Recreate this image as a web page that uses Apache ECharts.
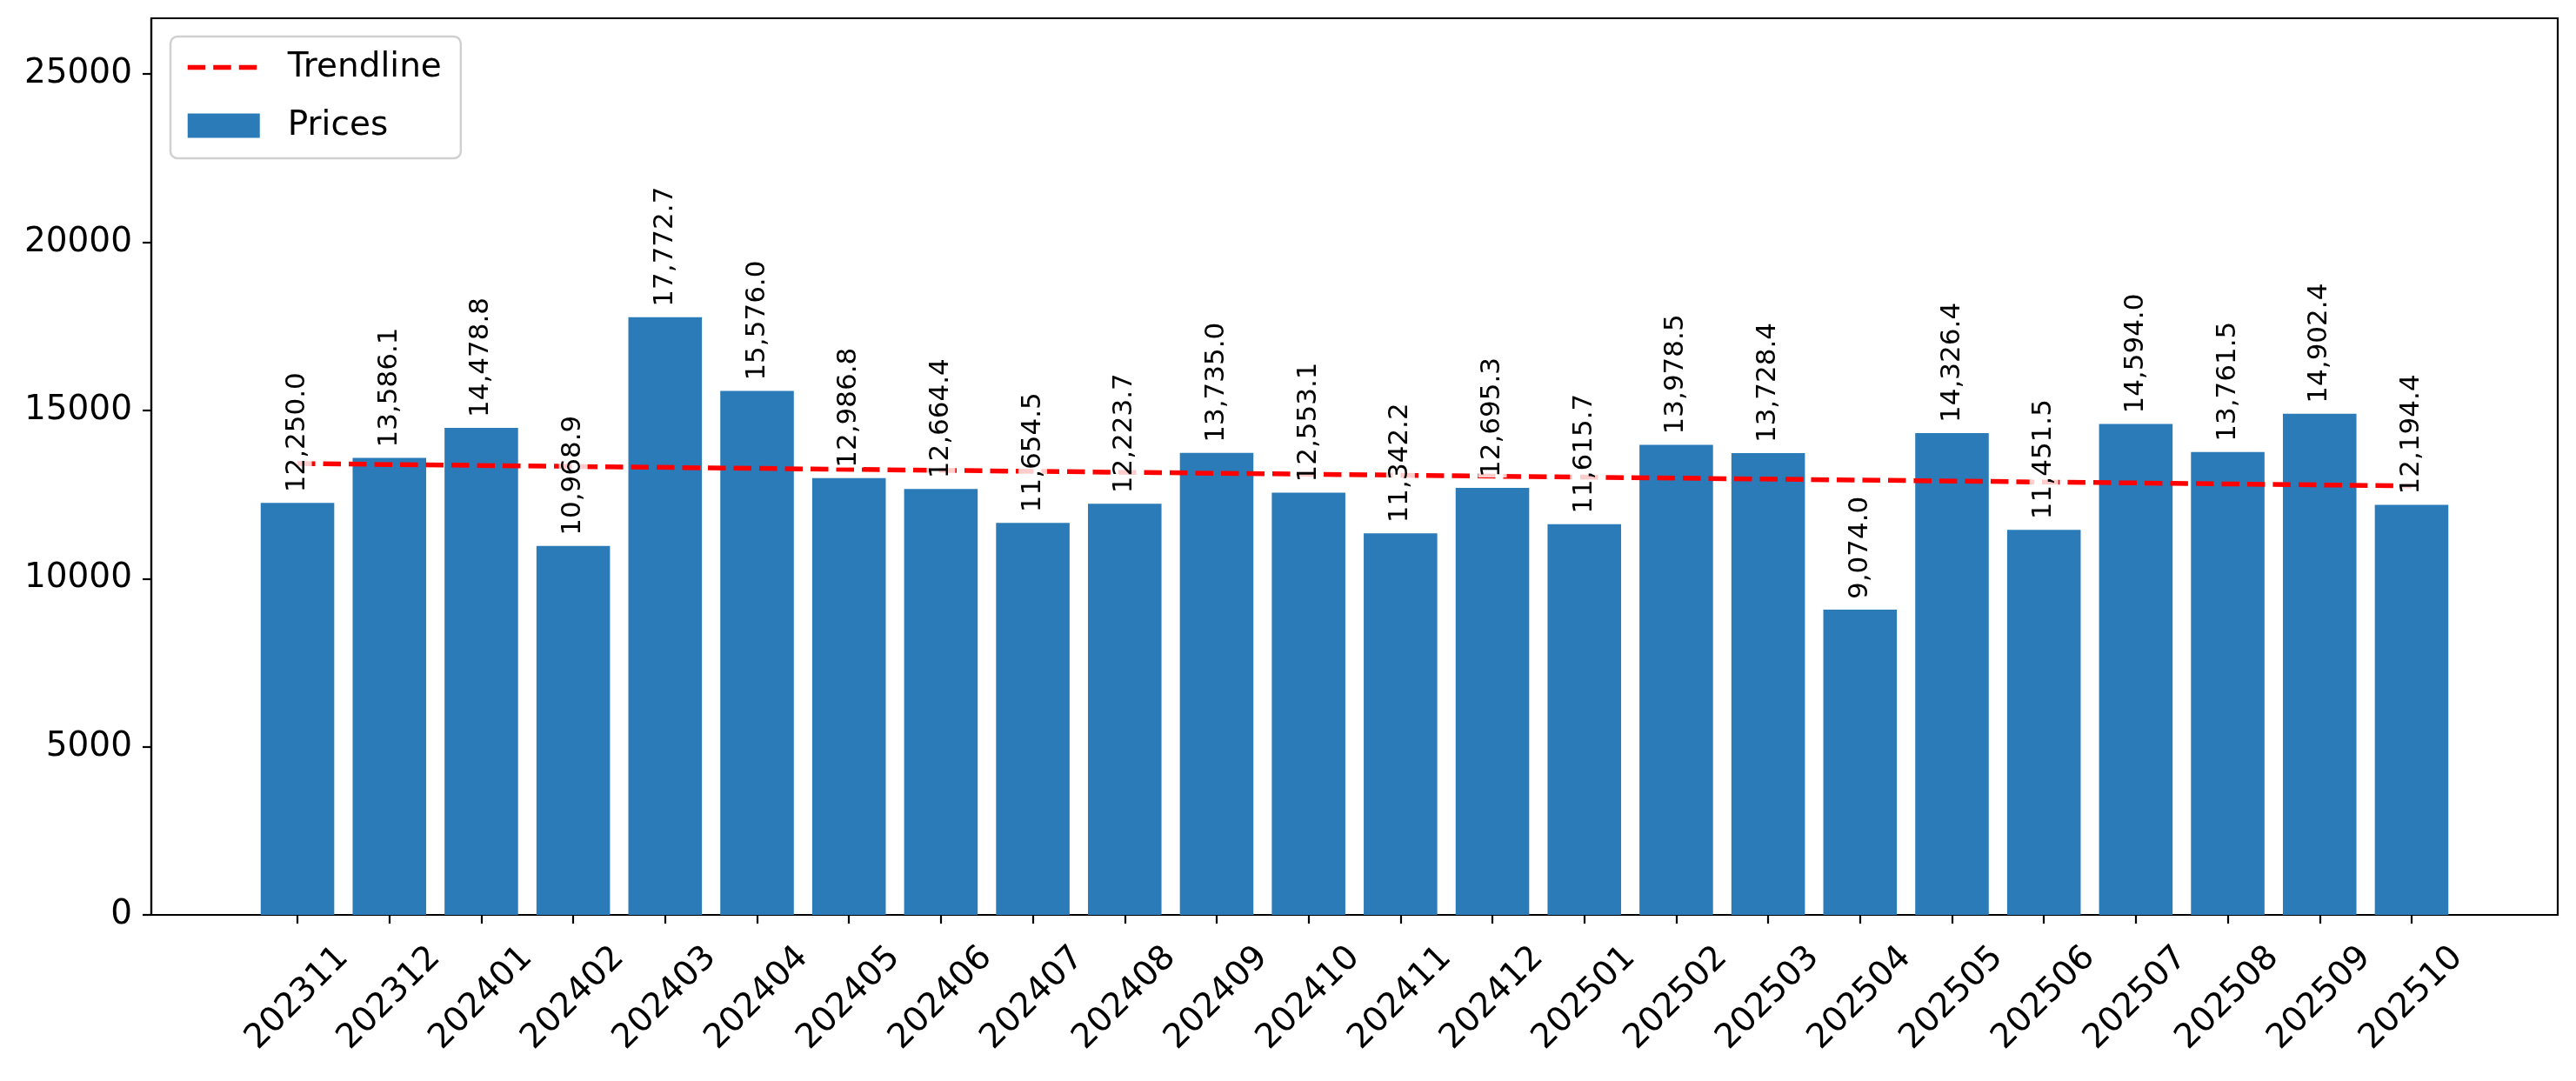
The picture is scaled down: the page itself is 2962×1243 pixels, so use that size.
<!DOCTYPE html>
<html lang="en">
<head>
    <meta charset="UTF-8">
    <title>Prices</title>
    <style>
        html, body { margin: 0; padding: 0; background: #fff; }
        #container { width: 2962px; height: 1243px; }
    </style>
</head>
<body>
    <div id="container"></div>
    <script src="https://cdn.jsdelivr.net/npm/echarts@6/dist/echarts.min.js"></script>
    <script>
        var months = ['202311', '202312', '202401', '202402', '202403', '202404', '202405', '202406',
            '202407', '202408', '202409', '202410', '202411', '202412', '202501', '202502',
            '202503', '202504', '202505', '202506', '202507', '202508', '202509', '202510'];
        var prices = [12250.0, 13586.1, 14478.8, 10968.9, 17772.7, 15576.0, 12986.8, 12664.4,
            11654.5, 12223.7, 13735.0, 12553.1, 11342.2, 12695.3, 11615.7, 13978.5,
            13728.4, 9074.0, 14326.4, 11451.5, 14594.0, 13761.5, 14902.4, 12194.4];
        // trendline end points
        var trendX = [0, 23];
        var trendY = [13420, 12755];
        var yTicks = [0, 5000, 10000, 15000, 20000, 25000];

        var container = document.getElementById('container'),
            ec = echarts.init(container);

        var gridLeft = 174, gridRight = 21, xMin = -1.59, xMax = 24.59;
        var unit = (container.clientWidth - gridLeft - gridRight) / (xMax - xMin);
        var font = 'DejaVu Sans';
        var dash = [20.5, 9];

        var barData = prices.map(function (v, i) { return [i, v]; });
        var tickIdx = months.map(function (m, i) { return i; });

        var option = {
            backgroundColor: '#fff',
            animation: false,
            textStyle: { fontFamily: font },
            grid: {
                left: gridLeft, right: gridRight, top: 21, bottom: 191,
                show: true, borderColor: '#000', borderWidth: 2.2
            },
            legend: {
                data: [{
                    name: 'Trendline',
                    itemStyle: { opacity: 0 },
                    lineStyle: { color: '#ff0000', width: 5.5, type: dash }
                }, {
                    name: 'Prices',
                    icon: 'rect'
                }],
                orient: 'vertical',
                left: 196, top: 42,
                padding: [16, 22, 18, 17],
                itemWidth: 83, itemHeight: 28,
                itemGap: 28,
                backgroundColor: 'rgba(255,255,255,0.8)',
                borderColor: '#d0d0d0', borderWidth: 2.5, borderRadius: 8,
                textStyle: { fontSize: 39, color: '#000', fontFamily: font, lineHeight: 39, padding: [0, 0, 0, 27] }
            },
            xAxis: {
                type: 'value', min: xMin, max: xMax,
                splitLine: { show: false },
                axisLine: { show: true, onZero: false, lineStyle: { color: '#000', width: 2.2 } },
                axisTick: { show: true, length: 10, customValues: tickIdx, lineStyle: { color: '#000', width: 2.2 } },
                axisLabel: {
                    customValues: tickIdx,
                    formatter: function (v) { return months[Math.round(v)]; },
                    rotate: 45, align: 'center', verticalAlign: 'middle',
                    margin: 96, fontSize: 39, color: '#000', fontFamily: font
                }
            },
            yAxis: {
                type: 'value', min: 0, max: 26659,
                splitLine: { show: false },
                axisLine: { show: true, onZero: false, lineStyle: { color: '#000', width: 2.2 } },
                axisTick: { show: true, length: 10, customValues: yTicks, lineStyle: { color: '#000', width: 2.2 } },
                axisLabel: {
                    customValues: yTicks,
                    formatter: function (v) { return String(v); },
                    margin: 22, fontSize: 39, color: '#000', fontFamily: font
                }
            },
            series: [{
                name: 'Prices',
                type: 'bar',
                data: barData,
                barWidth: unit * 0.8,
                barGap: '-100%',
                itemStyle: { color: '#2b7bb9' },
                z: 2
            }, {
                name: 'Trendline',
                type: 'line',
                data: trendX.map(function (x, i) { return [x, trendY[i]]; }),
                symbol: 'none',
                lineStyle: { color: '#ff0000', width: 5.5, type: dash },
                itemStyle: { color: '#ff0000' },
                z: 3
            }, {
                name: 'labels',
                type: 'bar',
                data: barData,
                barWidth: unit * 0.8,
                barGap: '-100%',
                itemStyle: { color: 'rgba(0,0,0,0)' },
                z: 5,
                label: {
                    show: true,
                    position: 'top',
                    rotate: 90,
                    align: 'left',
                    verticalAlign: 'middle',
                    distance: 12,
                    fontSize: 31,
                    fontFamily: font,
                    color: '#000',
                    backgroundColor: 'rgba(255,255,255,0.8)',
                    padding: [2, 0, 0, 0],
                    formatter: function (p) {
                        return p.value[1].toLocaleString('en-US', { minimumFractionDigits: 1, maximumFractionDigits: 1 });
                    }
                }
            }]
        };
        ec.setOption(option);
    </script>
</body>
</html>
